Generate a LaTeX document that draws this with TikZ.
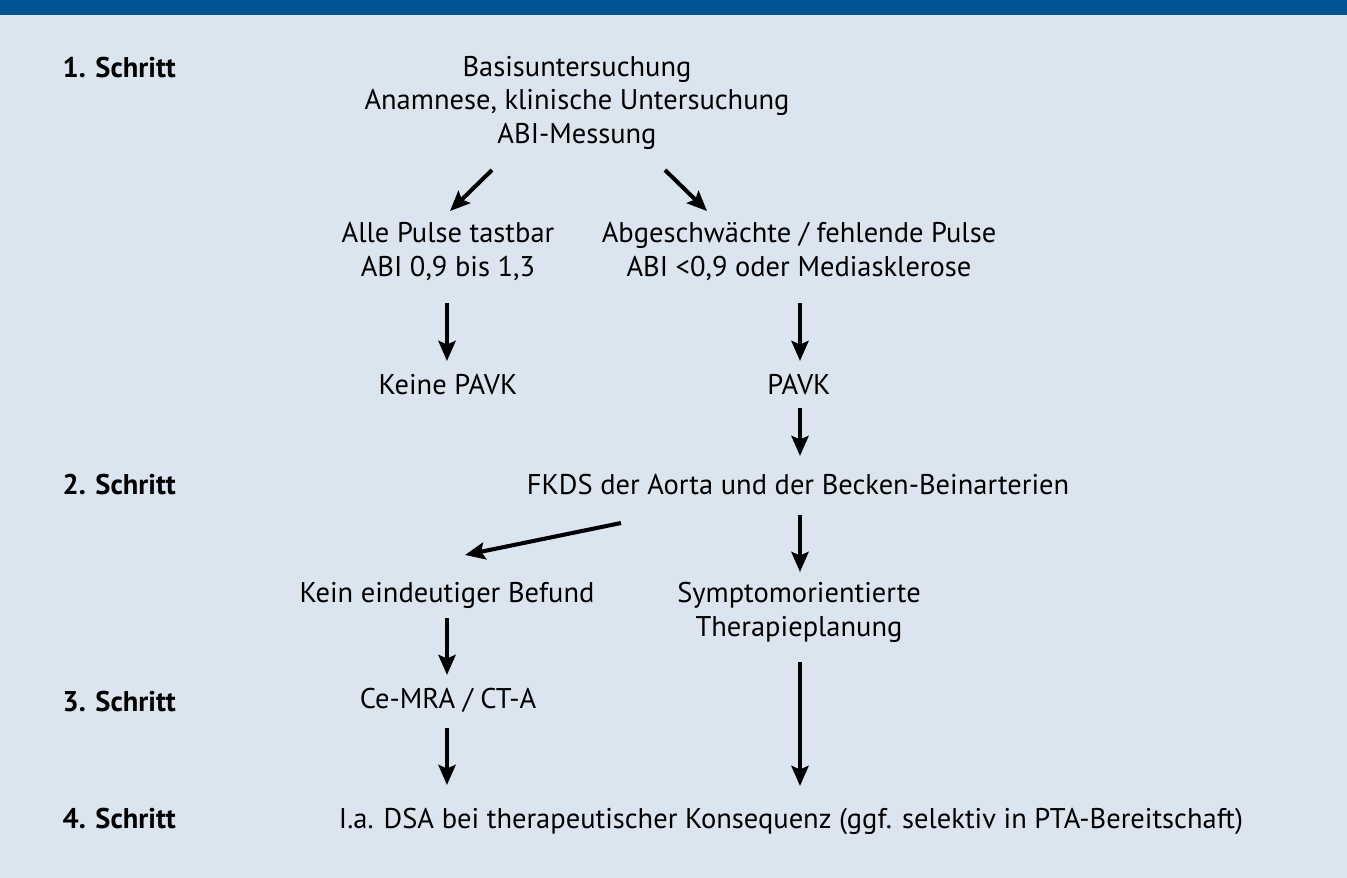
\documentclass[tikz,border=0pt]{standalone}
\usepackage{fontspec}
\setmainfont{PT Sans}
\usepackage{tikz}
\usetikzlibrary{calc}
\usetikzlibrary{arrows.meta}
\definecolor{barblue}{RGB}{0,84,147}
\definecolor{bgblue}{RGB}{219,229,239}
\tikzset{%
txt/.style={anchor=base,align=center,inner sep=0pt,font=\fontsize{8.1}{9.39}\selectfont},%
steplabel/.style={anchor=base west,inner sep=0pt,font=\fontsize{8.1}{9.39}\selectfont\bfseries},%
arr/.style={line width=1.15pt,-{Stealth[length=0.2cm,width=0.17cm,inset=0.035cm]}},%
}
\begin{document}
\begin{tikzpicture}[x=0.01cm,y=-0.01cm]%
\fill[bgblue] (0,0) rectangle (1347,878);%
\fill[barblue] (0,0) rectangle (1347,15);%
\useasboundingbox (0,0) rectangle (1347,878);%
% step labels
\node[steplabel] (s1) at (62,77) {1. Schritt};%
\node[steplabel] (s2) at (62,494) {2. Schritt};%
\node[steplabel] (s3) at (62,711) {3. Schritt};%
\node[steplabel] (s4) at (62,828) {4. Schritt};%
% boxes (base = last line)
\node[txt] (basis) at (577,143) {Basisuntersuchung\\Anamnese, klinische Untersuchung\\ABI-Messung};%
\node[txt] (alle) at (448,276) {Alle Pulse tastbar\\ABI 0,9 bis 1,3};%
\node[txt] (abge) at (799,276) {Abgeschwächte / fehlende Pulse\\ABI <0,9 oder Mediasklerose};%
\node[txt] (keine) at (448,394) {Keine PAVK};%
\node[txt] (pavk) at (799,394) {PAVK};%
\node[txt] (fkds) at (798,494) {FKDS der Aorta und der Becken-Beinarterien};%
\node[txt] (kein) at (447,602) {Kein eindeutiger Befund};%
\node[txt] (sympt) at (799,636) {Symptomorientierte\\Therapieplanung};%
\node[txt] (cemra) at (448,708) {Ce-MRA / CT-A};%
\node[txt] (dsa) at (791,828) {I.a. DSA bei therapeutischer Konsequenz (ggf. selektiv in PTA-Bereitschaft)};%
% arrows
\draw[arr] ($(basis.base)+(-85,27)$) -- ($(alle.base)+(2,-65)$);%
\draw[arr] ($(basis.base)+(88,27)$) -- ($(abge.base)+(-92,-65)$);%
\draw[arr] ($(alle.base)+(-1,27)$) -- ($(keine.base)+(-1,-33)$);%
\draw[arr] ($(abge.base)+(1,27)$) -- ($(pavk.base)+(1,-33)$);%
\draw[arr] ($(pavk.base)+(1,14)$) -- ($(fkds.base)+(2,-38)$);%
\draw[arr] ($(fkds.base)+(-177,29)$) -- ($(kein.base)+(18,-47)$);%
\draw[arr] ($(fkds.base)+(2,21)$) -- ($(sympt.base)+(1,-64)$);%
\draw[arr] ($(kein.base)+(0,16)$) -- ($(cemra.base)+(-1,-33)$);%
\draw[arr] ($(cemra.base)+(-1,20)$) -- ($(dsa.base)+(-344,-43)$);%
\draw[arr] ($(sympt.base)+(1,26)$) -- ($(dsa.base)+(9,-42)$);%
\end{tikzpicture}
\end{document}
